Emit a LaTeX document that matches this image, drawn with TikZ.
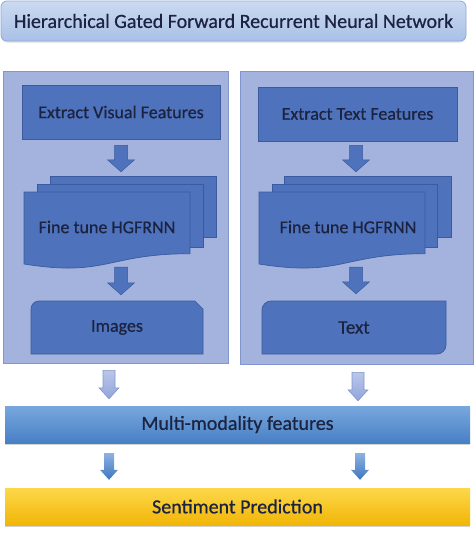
\documentclass[tikz,border=0pt]{standalone}
\usepackage{fontspec}
\setmainfont{Carlito}[FakeBold=0.6]
\newfontfamily\calfont{Carlito}[FakeBold=0.6]
\usetikzlibrary{calc,shadows}
\definecolor{txt}{HTML}{1B2340}
\definecolor{titletop}{HTML}{CCDAF1}
\definecolor{titlebot}{HTML}{A9C0E6}
\definecolor{titleline}{HTML}{8EAADB}
\definecolor{panelfill}{HTML}{A4B3DD}
\definecolor{panelline}{HTML}{8196CF}
\definecolor{boxfill}{HTML}{4E72BB}
\definecolor{boxline}{HTML}{3B5B9E}
\definecolor{multitop}{HTML}{78A7DD}
\definecolor{multibot}{HTML}{4880C6}
\definecolor{senttop}{HTML}{FDD84A}
\definecolor{sentbot}{HTML}{F1B507}
\definecolor{oarrtop}{HTML}{BAC7EA}
\definecolor{oarrbot}{HTML}{91A5DA}
\definecolor{larrtop}{HTML}{8CB2E2}
\definecolor{larrbot}{HTML}{3E76C0}
\newcommand\blockarr[6]{%
  \path[#1] let \p1=#2, \p2=#3 in
    (\x1-#4,\y1) -- (\x1+#4,\y1) -- (\x1+#4,\y2+#6) -- (\x1+#5,\y2+#6)
    -- (\x1,\y2) -- (\x1-#5,\y2+#6) -- (\x1-#4,\y2+#6) -- cycle;}
\tikzset{
  fs18/.style={font=\calfont\fontsize{18}{20}\selectfont},
  fs20/.style={font=\calfont\fontsize{20}{22}\selectfont},
  titlebox/.style={draw=titleline, line width=0.8pt, rounded corners=6pt,
    top color=titletop, bottom color=titlebot,
    drop shadow={shadow xshift=0pt, shadow yshift=-1.5pt, opacity=0.25},
    text=txt, fs20, inner sep=0pt},
  panel/.style={draw=panelline, fill=panelfill, line width=0.8pt, inner sep=0pt},
  bluebox/.style={draw=boxline, fill=boxfill, line width=0.7pt, text=txt,
    fs18, inner sep=0pt},
  shapefill/.style={draw=boxline, fill=boxfill, line width=0.7pt},
  region/.style={inner sep=0pt, text=txt, fs18},
  multibox/.style={top color=multitop, bottom color=multibot, draw=none,
    drop shadow={shadow xshift=0pt, shadow yshift=-2pt, opacity=0.35},
    text=txt, fs20, inner sep=0pt},
  sentbox/.style={top color=senttop, bottom color=sentbot, draw=none,
    drop shadow={shadow xshift=0pt, shadow yshift=-2pt, opacity=0.35},
    text=txt, fs20, inner sep=0pt},
  inarrow/.style={fill=boxfill, draw=boxline, line width=0.5pt},
  outarrow/.style={top color=oarrtop, bottom color=oarrbot, draw=panelline, line width=0.6pt},
  lowarrow/.style={top color=larrtop, bottom color=larrbot, draw=none},
}
\begin{document}
\begin{tikzpicture}[x=1pt,y=-1pt]
\useasboundingbox (0,0) rectangle (474,533);
% title
\node[titlebox, minimum width=465, minimum height=40] (title) at (233.5,21)
  {Hierarchical Gated Forward Recurrent Neural Network};
% panels
\node[panel, minimum width=225, minimum height=292] (pL) at (115.5,217) {};
\node[panel, minimum width=233, minimum height=293] (pR) at (356.5,217.5) {};
% top boxes
\node[bluebox, minimum width=198, minimum height=54] (ev) at (121,112) {Extract Visual Features};
\node[bluebox, minimum width=199, minimum height=54] (et) at (357.5,114) {Extract Text Features};
% left stack
\draw[shapefill] (50,176) rectangle (216,237);
\draw[shapefill] (37,184) rectangle (203,247);
\draw[shapefill] (24,192) -- (190,192) -- (190,253.7)
  .. controls (107,253.7) and (107,277.2) .. (24,264) -- cycle;
\node[region] (ftL) at (107,227) {Fine tune HGFRNN};
\node[inner sep=0pt, minimum width=190, minimum height=88] (stackL) at (121,220) {};
% right stack
\draw[shapefill] (284,176) rectangle (451,237);
\draw[shapefill] (272,184) rectangle (437,247);
\draw[shapefill] (259,192) -- (425,192) -- (425,253.7)
  .. controls (342,253.7) and (342,277.2) .. (259,264) -- cycle;
\node[region] (ftR) at (348,227) {Fine tune HGFRNN};
\node[inner sep=0pt, minimum width=190, minimum height=88] (stackR) at (357.5,220) {};
% Images shape
\draw[shapefill] (31,354) -- (31,309) .. controls (31,304.6) and (34.6,301) .. (39,301)
  -- (195,301) -- (203,309) -- (203,354) -- cycle;
\node[region, minimum width=172, minimum height=53] (img) at (117,327.5) {Images};
% Text shape
\draw[shapefill] (262,354) -- (262,310) .. controls (262,305) and (266,301) .. (271,301)
  -- (446,301) -- (446,345) .. controls (446,350) and (442,354) .. (437,354) -- cycle;
\node[region, minimum width=184, minimum height=53, font=\calfont\fontsize{19}{21}\selectfont] (txt) at (354,327.5) {Text};
% bottom boxes
\node[multibox, minimum width=465, minimum height=37] (multi) at (237.5,424.5) {Multi-modality features};
\node[sentbox, minimum width=465, minimum height=37] (sent) at (237.5,506.5) {Sentiment Prediction};
% arrows inside panels
\blockarr{inarrow}{($(ev.south)+(0,6)$)}{($(stackL.north)+(0,-4)$)}{6.5pt}{13.5pt}{12pt}
\blockarr{inarrow}{($(stackL.south)+(0,3)$)}{($(img.north)+(0,-6)$)}{6.5pt}{13.5pt}{12pt}
\blockarr{inarrow}{($(et.south)+(-1.5,4)$)}{($(stackR.north)+(0,-4)$)}{6.5pt}{13.5pt}{12pt}
\blockarr{inarrow}{($(stackR.south)+(-1.5,3)$)}{($(txt.north)+(0,-7)$)}{6.5pt}{13.5pt}{12pt}
% arrows out of panels
\blockarr{outarrow}{($(pL.south)+(-6.5,7)$)}{($(multi.north)+(0,-7)$)}{6pt}{10pt}{11pt}
\blockarr{outarrow}{($(pR.south)+(1.5,8)$)}{($(multi.north)+(0,-5)$)}{6pt}{10pt}{11pt}
% arrows to sentiment
\blockarr{lowarrow}{($(multi.south)+(-128.5,10)$)}{($(sent.north)+(0,-8)$)}{5pt}{9pt}{10pt}
\blockarr{lowarrow}{($(multi.south)+(122.5,10)$)}{($(sent.north)+(0,-8)$)}{5pt}{9pt}{10pt}
\end{tikzpicture}
\end{document}
